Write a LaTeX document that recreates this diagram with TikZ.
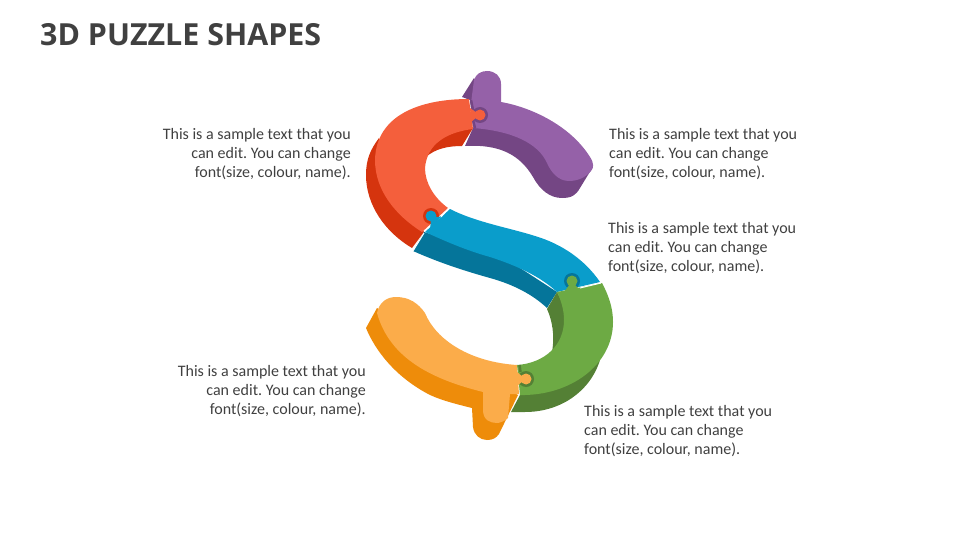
\documentclass[tikz,border=0pt]{standalone}
\usepackage{fontspec}
\setmainfont{Carlito}
\newfontfamily\titlefont{Open Sans}
\usepackage{xcolor}
\usetikzlibrary{positioning}
\definecolor{tcol}{HTML}{404040}
\definecolor{purplelt}{HTML}{9561A8}
\definecolor{purpledk}{HTML}{744684}
\definecolor{redlt}{HTML}{F45F3C}
\definecolor{reddk}{HTML}{D5340E}
\definecolor{bluelt}{HTML}{0A9DCB}
\definecolor{bluedk}{HTML}{05759A}
\definecolor{greenlt}{HTML}{6DAA44}
\definecolor{greendk}{HTML}{548035}
\definecolor{orangelt}{HTML}{FBAC4A}
\definecolor{orangedk}{HTML}{EE8C0A}
\tikzset{
  leftnote/.style={text=tcol,font=\fontsize{16}{19}\selectfont,align=right,anchor=north east,inner sep=0pt},
  rightnote/.style={text=tcol,font=\fontsize{16}{19}\selectfont,align=left,anchor=north west,inner sep=0pt},
  gap/.style={draw=white,line width=1pt}
}
\begin{document}
\frenchspacing
\begin{tikzpicture}[x=1pt,y=-1pt]
\useasboundingbox (0,0) rectangle (960,540);
\node[anchor=west,inner sep=0pt,text=tcol,font=\titlefont\bfseries\fontsize{30.4}{36}\selectfont] (title) at (40,35) {3D PUZZLE SHAPES};
% notes
\node[leftnote] (noteone) at (351,128) {This is a sample text that you\\can edit. You can change\\font(size, colour, name).};
\node[rightnote] (notetwo) at (609,128) {This is a sample text that you\\can edit. You can change\\font(size, colour, name).};
\node[rightnote] (notethree) at (608,222) {This is a sample text that you\\can edit. You can change\\font(size, colour, name).};
\node[leftnote] (notefour) at (366,365) {This is a sample text that you\\can edit. You can change\\font(size, colour, name).};
\node[rightnote] (notefive) at (584,405) {This is a sample text that you\\can edit. You can change\\font(size, colour, name).};
% purple side
\fill[purpledk] (474,78) -- (462,97) -- (470,100) -- (473,128) -- (465,146) .. controls (500,144) and (520,155) .. (533,177) .. controls (540,190) and (550,198) .. (562,198) .. controls (572,198) and (576,195) .. (580,188) -- (591,170) -- (540,140) -- (490,110) -- cycle;
% purple top
\fill[purplelt] (474,80) .. controls (476,74) and (481,71) .. (487,71) .. controls (495,71) and (501,76) .. (501,84) -- (501,102) .. controls (530,107) and (570,125) .. (590,157) .. controls (594,163) and (594,168) .. (591,171) .. controls (585,178) and (577,181) .. (569,181) .. controls (558,181) and (551,172) .. (547,163) .. controls (538,143) and (512,131) .. (473,128) -- (471,103) -- cycle;
\draw[purpledk,line width=2.5pt] (471,100) -- (473,110) (473,120) -- (475,128);
\fill[purpledk] (480,115) circle (8);
% red side
\fill[reddk] (379,138) .. controls (370,150) and (366,160) .. (366,175) .. controls (366,205) and (385,232) .. (412,248) -- (424,232) -- (395,180) -- cycle;
\fill[reddk] (473,128) -- (462,146) .. controls (447,146) and (435,149) .. (426,157) -- (440,135) -- cycle;
% red top
\fill[redlt] (469,99) .. controls (420,99) and (376,115) .. (375,160) .. controls (375,190) and (395,215) .. (422,232) -- (448,208) .. controls (433,197) and (425,182) .. (425,168) .. controls (427,143) and (448,132) .. (473,129) -- cycle;
\fill[redlt] (480,115) circle (5.5) (470,108) -- (477,113) -- (477,117) -- (471,122) -- cycle;
\fill[reddk] (431,216) circle (8);
% blue side
\fill[bluedk] (424,232) -- (413,251) .. controls (440,263) and (465,271) .. (490,278) .. controls (515,285) and (533,295) .. (547,308) -- (557,292) -- (500,255) -- cycle;
% blue top
\fill[bluelt] (450,209) .. controls (475,222) and (510,228) .. (535,236) .. controls (562,244) and (585,260) .. (600,282) -- (557,292) .. controls (540,276) and (515,265) .. (490,257) .. controls (465,250) and (445,241) .. (425,232) -- cycle;
\fill[bluelt] (431,216) circle (5.5) (433,218) -- (442,216) -- (430,229) -- (431,220) -- cycle;
\fill[bluedk] (572,281) circle (8);
% green side
\fill[greendk] (600,360) .. controls (590,392) and (560,412) .. (525,412) -- (511,412) -- (520,395) -- (570,370) -- cycle;
\fill[greendk] (557,292) -- (547,309) .. controls (552,320) and (555,335) .. (552,352) -- (562,345) -- (566,310) -- cycle;
% green top
\fill[greenlt] (602,283) .. controls (610,298) and (613,310) .. (613,322) .. controls (613,365) and (570,396) .. (520,395) -- (517,365) .. controls (545,363) and (564,345) .. (564,320) .. controls (564,310) and (561,300) .. (557,292) -- cycle;
\fill[greenlt] (572,281) circle (5.5) (570,284) -- (574,284) -- (580,290) -- (564,292) -- cycle;
\draw[greendk,line width=2.5pt] (519.5,365) -- (520.5,372);
\fill[greendk] (526,379) circle (8);
% orange side
\fill[orangedk] (377,308) -- (366,328) .. controls (375,350) and (395,377) .. (430,395) .. controls (443,401) and (460,405) .. (472,408) -- (473,427) .. controls (474,435) and (480,440) .. (487,440) .. controls (493,440) and (496,438) .. (499,434) -- (518,395) -- (470,370) -- cycle;
% orange top
\fill[orangelt] (377,313) .. controls (379,303) and (386,297) .. (396,297) .. controls (409,297) and (418,303) .. (425,313) .. controls (436,340) and (470,362) .. (517,365) -- (519,394) -- (510,394) -- (508,418) .. controls (505,421) and (500,423) .. (497,423) .. controls (490,423) and (483,420) .. (483,410) -- (483,392) .. controls (435,380) and (390,360) .. (377,313) -- cycle;
\fill[orangelt] (526,379) circle (5.5) (517,372) -- (523,377) -- (523,381) -- (517,386) -- cycle;
% gaps
\draw[gap] (449,208) -- (441,217);
\draw[gap] (424,233) -- (413,251);
\draw[gap] (601,283) -- (580,288);
\end{tikzpicture}
\end{document}
